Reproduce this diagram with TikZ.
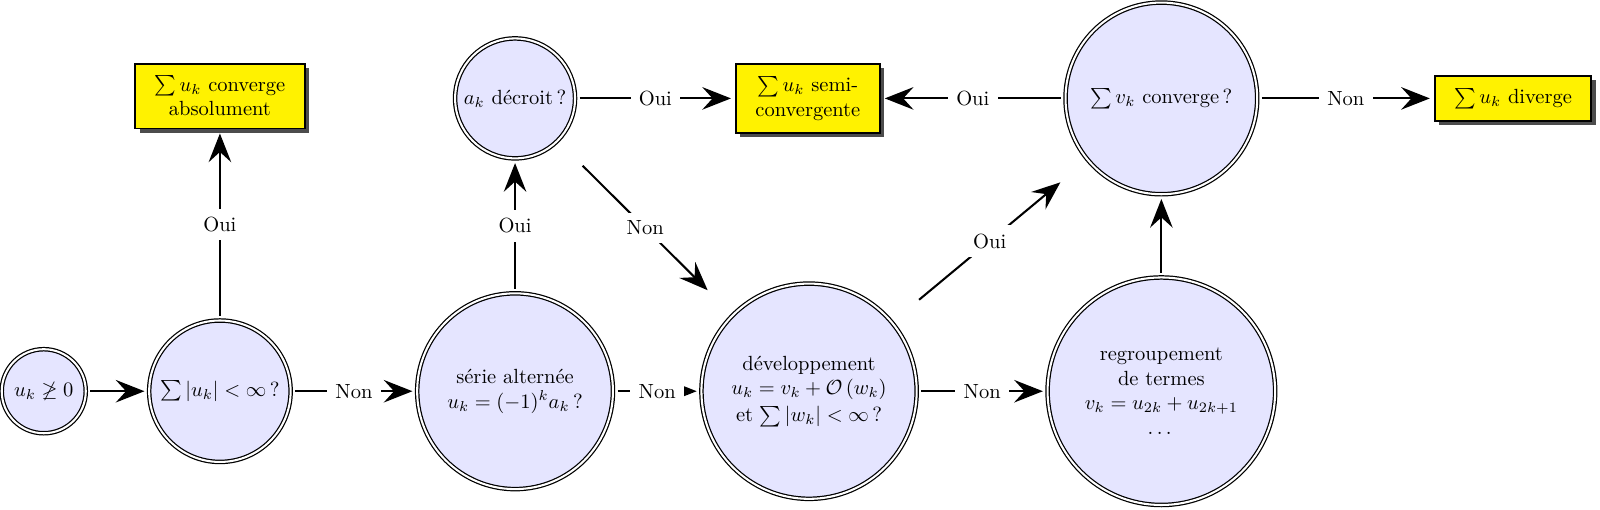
\documentclass[tikz,border=0pt]{standalone}
\usepackage{amsmath,amssymb}
\usepackage{tikz}
\usetikzlibrary{arrows.meta,shadows}

\begin{document}
\begin{tikzpicture}[line width=1pt, shorten >=2pt, shorten <=2pt,
    >={Stealth[length=14pt,width=11pt,inset=5pt]},
    test/.style={circle, draw, double, double distance=1pt, line width=0.6pt,
      fill=blue!10, inner sep=1pt, align=center},
    issue/.style={rectangle, draw, line width=0.9pt, fill=yellow,
      drop shadow={fill=black!70, opacity=1},
      inner xsep=9.5pt, inner ysep=6pt, align=center},
    lbl/.style={fill=white, inner sep=4pt}]
    \useasboundingbox (0, 0) rectangle (27.43, 8.727);
    \node[test, minimum size=41pt] (u) at (0.75, 2.02) {$u_k \not\geq 0$};
    \node[test, minimum size=69pt] (c) at (3.77, 2.02) {$\sum |u_k| < \infty$\,?};
    \node[test, minimum size=95.5pt] (s) at (8.83, 2.02) {série alternée\\$u_k = (-1)^k a_k$\,?};
    \node[test, minimum size=105pt] (d) at (13.87, 2.02) {développement\\$u_k = v_k + \mathcal{O}\left(w_k\right)$\\[1pt]et $\sum |w_k| < \infty$\,?};
    \node[test, minimum size=111pt] (r) at (19.91, 2.02) {regroupement\\de termes\\$v_k = u_{2k} + u_{2k+1}$\\$\dots$};
    \node[test, minimum size=58.5pt] (m) at (8.83, 7.04) {$a_k$ décroit\,?};
    \node[test, minimum size=93.5pt] (v) at (19.91, 7.04) {$\sum v_k$ converge\,?};
    \node[issue] (A) at (3.77, 7.08) {$\sum u_k$ converge\\absolument};
    \node[issue] (S) at (13.85, 7.04) {$\sum u_k$ semi-\\convergente};
    \node[issue] (D) at (25.94, 7.04) {$\sum u_k$ diverge};
    \draw [->] (u) to (c);
    \draw [->] (c) to node[lbl] {Non} (s);
    \draw [->] (s) to node[lbl] {Non} (d);
    \draw [->] (d) to node[lbl] {Non} (r);
    \draw [->] (c) to node[lbl] {Oui} (A);
    \draw [->] (s) to node[lbl] {Oui} (m);
    \draw [->] (m) to node[lbl] {Oui} (S);
    \draw [->, shorten <=17pt, shorten >=17pt] (m) to node[lbl] {Non} (d);
    \draw [->, shorten <=17pt, shorten >=17pt] (d) to node[lbl] {Oui} (v);
    \draw [->] (r) to (v);
    \draw [->] (v) to node[lbl] {Oui} (S);
    \draw [->] (v) to node[lbl] {Non} (D);
  \end{tikzpicture}
\end{document}
